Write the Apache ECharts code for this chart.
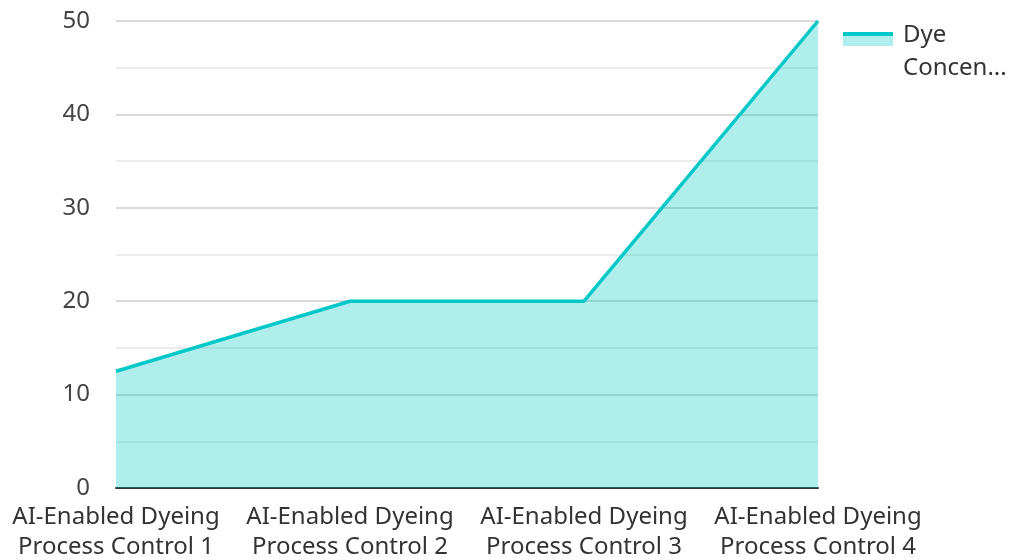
<!DOCTYPE html>
<html>
<head>
<meta charset="utf-8">
<style>
  html, body { margin: 0; padding: 0; background: #fff; }
  #chart { width: 1010px; height: 560px; }
</style>
<script src="https://cdn.jsdelivr.net/npm/echarts@6/dist/echarts.min.js"></script>
</head>
<body>
<div id="chart"></div>
<script>
const categories = [
  'AI-Enabled Dyeing\nProcess Control 1',
  'AI-Enabled Dyeing\nProcess Control 2',
  'AI-Enabled Dyeing\nProcess Control 3',
  'AI-Enabled Dyeing\nProcess Control 4'
];
const seriesName = 'Dye Concentration';
const dyeValues = [12.5, 20, 20, 50];
const yTicks = [0, 10, 20, 30, 40, 50];

const lineColor = '#00c8c8';
const areaColor = '#b0eeee';

const chart = echarts.init(document.getElementById('chart'));
chart.setOption({
  animation: false,
  textStyle: { fontFamily: 'Noto Sans' },
  grid: { left: 116, right: 192, top: 21, bottom: 72, outerBoundsMode: 'none', containLabel: false },
  legend: {
    left: 843,
    top: 5,
    padding: 0,
    orient: 'vertical',
    icon: 'rect',
    itemWidth: 50,
    itemHeight: 14,
    itemGap: 10,
    // legend swatch: solid line band on top of the lighter area fill
    itemStyle: {
      color: {
        type: 'linear', x: 0, y: 0, x2: 0, y2: 1,
        colorStops: [
          { offset: 0, color: lineColor },
          { offset: 0.26, color: lineColor },
          { offset: 0.26, color: areaColor },
          { offset: 1, color: areaColor }
        ]
      },
      borderWidth: 0
    },
    // a short spacer line above keeps the first word level with the swatch
    formatter: () => '{s| }\n{t|Dye}\n{t|Concen...}',
    textStyle: {
      fontSize: 24, color: '#333', fontFamily: 'Noto Sans',
      rich: {
        s: { fontSize: 2, lineHeight: 25 },
        t: { fontSize: 24, lineHeight: 33, color: '#333', fontFamily: 'Noto Sans', padding: [0, 0, 0, 5] }
      }
    }
  },
  xAxis: {
    type: 'category',
    data: categories,
    boundaryGap: false,
    axisLine: { lineStyle: { color: '#333', width: 2 } },
    axisTick: { show: false },
    axisLabel: { fontSize: 24, color: '#333', lineHeight: 30, margin: 14, interval: 0, fontFamily: 'Noto Sans' }
  },
  yAxis: {
    type: 'value',
    min: yTicks[0],
    max: yTicks[yTicks.length - 1],
    interval: 10,
    axisLine: { show: false },
    axisTick: { show: false },
    axisLabel: { fontSize: 24, color: '#444', margin: 26, fontFamily: 'Noto Sans' },
    splitLine: { lineStyle: { color: '#cccccc', width: 1.5 } },
    minorTick: { show: false, splitNumber: 2 },
    minorSplitLine: { show: true, lineStyle: { color: '#e6e6e6', width: 1.5 } }
  },
  series: [{
    name: seriesName,
    type: 'line',
    data: dyeValues,
    showSymbol: false,
    symbol: 'none',
    lineStyle: { color: lineColor, width: 3.5 },
    itemStyle: { color: lineColor },
    areaStyle: { color: lineColor, opacity: 0.31 }
  }]
});
</script>
</body>
</html>
